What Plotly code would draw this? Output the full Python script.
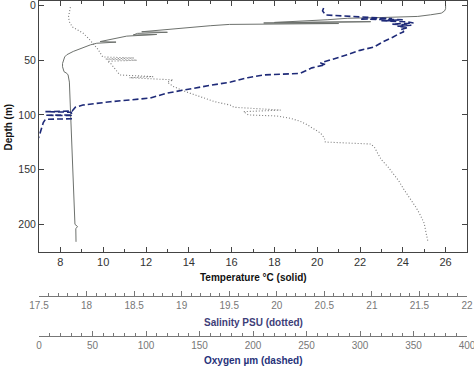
import plotly.graph_objects as go

# Temperature profile (solid)
temp_depth = [0, 3, 5, 7, 8.5, 10, 11, 11.7, 13, 14.5, 15.5, 14.8, 16, 16.5, 17, 17.3, 18.5, 20, 22,
              23.5, 24, 24.5, 25.5, 27, 26.5, 28, 30, 32, 33, 33.5, 34.5, 36, 38, 40, 42, 44, 45, 47,
              50, 53, 56, 58, 60.5, 62, 63.5, 70, 86, 100, 117, 140, 159, 180, 200, 202, 204, 216]
temp_vals = [26.0, 26.0, 25.95, 25.8, 25.3, 24.7, 23.0, 21.4, 20.5, 19.0, 18.0, 22.5, 17.5, 21.0, 16.0,
             15.9, 15.0, 14.2, 13.0, 12.2, 11.8, 13.0, 11.6, 11.4, 12.5, 11.1, 10.6, 10.1, 9.85, 10.6,
             9.7, 9.4, 9.1, 8.8, 8.6, 8.4, 8.3, 8.2, 8.15, 8.1, 8.1, 8.12, 8.17, 8.3, 8.36, 8.42, 8.45,
             8.49, 8.53, 8.56, 8.58, 8.62, 8.68, 8.8, 8.72, 8.73]

# Salinity profile (dotted)
sal_depth = [1.5, 5, 10.5, 15, 19.6, 22, 25, 30, 34.5, 40, 47, 48, 49, 50, 51, 52.6, 58, 63.5, 65, 66,
             68, 70, 74, 79, 83.5, 88, 91, 93, 95.6, 97, 100, 101, 103, 106, 109, 113, 116.6, 121,
             124.8, 126.6, 130, 135, 141, 147.6, 155, 160, 168.6, 176, 184, 190, 199, 208, 216]
sal_vals = [17.83, 17.82, 17.81, 17.82, 17.85, 17.9, 17.96, 18.02, 18.07, 18.12, 18.17, 18.5, 18.2,
            18.53, 18.22, 18.25, 18.3, 18.35, 18.7, 18.45, 18.91, 18.85, 18.91, 19.05, 19.2, 19.35,
            19.51, 19.55, 20.04, 19.65, 19.7, 20.0, 20.14, 20.25, 20.32, 20.4, 20.46, 20.5, 20.51,
            20.99, 21.03, 21.06, 21.1, 21.17, 21.24, 21.28, 21.34, 21.4, 21.46, 21.5, 21.55, 21.57,
            21.59]

# Oxygen profile (dashed)
oxy_depth = [2.3, 5, 8.7, 10, 11, 12, 12.5, 13, 14, 15, 16, 17, 18, 19, 20, 22, 24, 26, 28.8, 33, 38,
             41, 45, 49, 52.6, 54, 57, 62, 63.5, 66, 70, 73, 77, 80, 84.6, 86, 88, 91, 93, 96.5, 97,
             97.5, 100, 100.3, 100.6, 103.5, 104, 107, 113, 120, 126]
oxy_vals = [266, 265, 268, 290, 310, 330, 300, 340, 320, 345, 350, 330, 348, 335, 345, 338, 341, 336,
            331, 322, 313, 300, 288, 275, 263, 268, 255, 244, 210, 195, 179, 160, 139, 120, 104, 85,
            66.5, 41, 34, 31, 6, 30, 31, 6, 30, 31, 6, 4, 2, 0, -3]

temp_ticks = [8, 10, 12, 14, 16, 18, 20, 22, 24, 26]
depth_ticks = [0, 50, 100, 150, 200]

FONT = "Liberation Sans, Arial, sans-serif"

fig = go.Figure()
fig.add_trace(go.Scatter(x=temp_vals, y=temp_depth, mode="lines",
                         line=dict(color="#6d716d", width=1), xaxis="x", yaxis="y"))
fig.add_trace(go.Scatter(x=sal_vals, y=sal_depth, mode="lines",
                         line=dict(color="#7a7a7a", width=1.1, dash="1px,2px"), xaxis="x2", yaxis="y"))
fig.add_trace(go.Scatter(x=oxy_vals, y=oxy_depth, mode="lines",
                         line=dict(color="#1e2a78", width=1.6, dash="6px,3px"), xaxis="x3", yaxis="y"))

common = dict(showgrid=False, zeroline=False, showline=True, ticks="inside", ticklen=5,
              tickwidth=1, ticklabeloverflow="allow", automargin=False)

fig.update_layout(
    width=474, height=371,
    margin=dict(l=39, r=7, t=1, b=14, autoexpand=False),
    paper_bgcolor="white", plot_bgcolor="white",
    showlegend=False,
    font=dict(family=FONT),
    xaxis=dict(range=[7, 27], domain=[0, 1], anchor="y", tickvals=temp_ticks, mirror="ticks",
               linecolor="#444", tickcolor="#444", tickfont=dict(size=11, color="#333"),
               minor=dict(dtick=1, ticks="inside", ticklen=3, tickcolor="#444"), **common),
    xaxis2=dict(range=[17.5, 22], overlaying="x", anchor="free", position=0.1713, dtick=0.5,
                tick0=17.5, linecolor="#777", tickcolor="#777", tickfont=dict(size=10, color="#777"),
                minor=dict(dtick=0.1, ticks="inside", ticklen=3, tickcolor="#777"), **common),
    xaxis3=dict(range=[0, 400], overlaying="x", anchor="free", position=0.059, dtick=50,
                linecolor="#777", tickcolor="#777", tickfont=dict(size=10, color="#777"),
                minor=dict(dtick=10, ticks="inside", ticklen=3, tickcolor="#777"), **common),
    yaxis=dict(range=[225.3, -4.1], domain=[0.2949, 1], anchor="x", tickvals=depth_ticks,
               mirror="ticks", linecolor="#444", tickcolor="#444",
               tickfont=dict(size=10.5, color="#333"), **common),
)

ann = [
    dict(text="<b>Temperature °C (solid)</b>", x=0.5, y=0.2247, font=dict(size=10, color="#111")),
    dict(text="<b>Salinity PSU (dotted)</b>", x=0.5, y=0.0983, font=dict(size=10, color="#3e3e78")),
    dict(text="<b>Oxygen µm (dashed)</b>", x=0.5, y=-0.0112, font=dict(size=10, color="#27327a")),
    dict(text="<b>Depth (m)</b>", x=-0.0724, y=0.6447, textangle=-90, font=dict(size=10, color="#111")),
]
for a in ann:
    fig.add_annotation(xref="paper", yref="paper", showarrow=False, xanchor="center",
                       yanchor="middle", font_family=FONT, **{k: v for k, v in a.items()})

fig.write_html("out.html", config={"displayModeBar": False},
               post_script="document.body.style.margin='0';document.body.style.overflow='hidden';")
